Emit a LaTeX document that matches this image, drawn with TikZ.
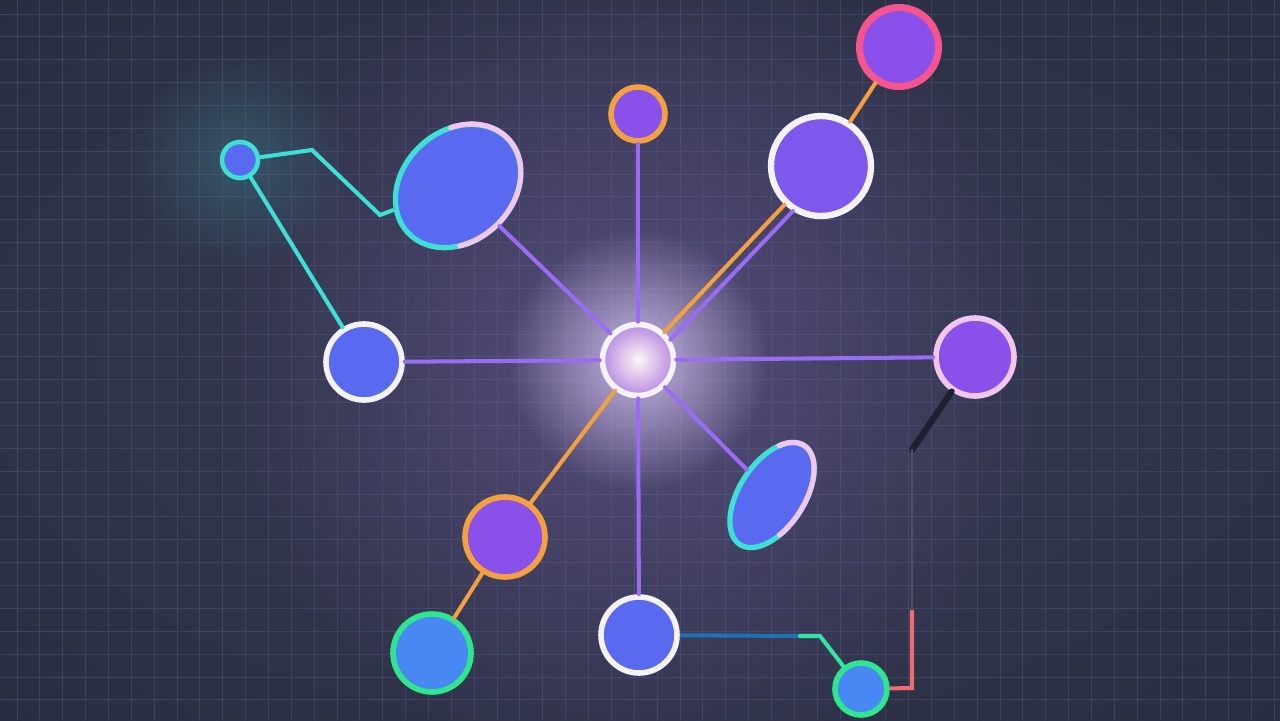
\documentclass[tikz,border=0pt]{standalone}
\usetikzlibrary{shapes.geometric,fadings}
\definecolor{bgin}{HTML}{353950}
\definecolor{bgout}{HTML}{22263A}
\definecolor{gridc}{HTML}{454B69}
\definecolor{spoke}{HTML}{9A6CF4}
\definecolor{amber}{HTML}{F2A040}
\definecolor{aqua}{HTML}{3EE0D6}
\definecolor{rose}{HTML}{F6548E}
\definecolor{mint}{HTML}{2FE68E}
\definecolor{snow}{HTML}{F4F2FF}
\definecolor{lilac}{HTML}{F0C6F2}
\definecolor{violetfill}{HTML}{8A50EA}
\definecolor{bluefill}{HTML}{5A6AF0}
\definecolor{wire}{HTML}{2070B4}
\definecolor{coral}{HTML}{F06A72}
\definecolor{ash}{HTML}{4C5168}
\definecolor{ink}{HTML}{1C2030}
\definecolor{haze}{HTML}{A880E8}
\pgfdeclareradialshading{backdrop}{\pgfpoint{0bp}{0bp}}{color(0bp)=(bgin); color(22bp)=(bgin!70!bgout); color(50bp)=(bgout)}
\tikzfading[name=glowfade, inner color=transparent!0, outer color=transparent!100]
\begin{document}
\begin{tikzpicture}[x=0.02cm, y=-0.02cm,
                    line width=2.3pt,
                    line cap=round,
                    ]
    \tikzstyle{ring}=[circle, inner sep=0pt, line width=3.2pt]
    \tikzstyle{violet}=[ring, fill=violetfill]
    \tikzstyle{blue}=[ring, fill=bluefill]
    \tikzstyle{oval}=[ellipse, inner sep=0pt, fill=bluefill, draw=aqua, line width=3pt]
    \tikzstyle{spokeline}=[spoke, line width=2.3pt]

    \useasboundingbox (0,0) rectangle (1280,720);
    \clip (0,0) rectangle (1280,720);
    \shade[shading=backdrop] (0,0) rectangle (1280,720);
    \foreach \i in {0,...,56}
        \draw[gridc, line width=0.5pt, opacity=0.7] (17+22.86*\i,0) -- (17+22.86*\i,720);
    \foreach \j in {0,...,31}
        \draw[gridc, line width=0.5pt, opacity=0.7] (0,14+22.86*\j) -- (1280,14+22.86*\j);

    \coordinate (hubc) at (638,360);
    \coordinate (dotc) at (240,160);
    \fill[haze, opacity=0.3, path fading=glowfade] (hubc) circle[radius=420];
    \fill[white!55!haze, opacity=0.85, path fading=glowfade] (hubc) circle[radius=130];
    \fill[aqua!50!gridc, opacity=0.35, path fading=glowfade] (dotc) circle[radius=110];

    \node[ring, draw=snow, minimum size=1.42cm, inner color=white!85!pink, outer color=haze!80!pink] (hub) at (hubc) {};
    \node[violet, draw=amber, minimum size=1.08cm] (top) at (638,114) {};
    \node[violet, draw=rose, minimum size=1.58cm, line width=4pt] (pink) at (899,47) {};
    \node[violet, draw=snow, minimum size=2.0cm, fill=violetfill!75!bluefill, line width=3.6pt] (big) at (821,166) {};
    \node[violet, draw=lilac, minimum size=1.56cm] (right) at (975,357) {};
    \node[blue, draw=snow, minimum size=1.52cm] (left) at (364,362) {};
    \node[blue, draw=aqua, minimum size=0.72cm, line width=2.6pt] (dot) at (dotc) {};
    \node[oval, minimum width=2.74cm, minimum height=2.2cm, rotate=43] (el1) at (458,186) {};
    \node[oval, minimum width=2.36cm, minimum height=1.3cm, rotate=57] (el2) at (772,495) {};
    \node[violet, draw=amber, minimum size=1.6cm] (oring) at (505,537) {};
    \node[blue, draw=mint, minimum size=1.56cm, fill=bluefill!80!cyan] (gring) at (432,653) {};
    \node[blue, draw=snow, minimum size=1.52cm] (bot) at (639,635) {};
    \node[blue, draw=mint, minimum size=1.04cm, fill=bluefill!80!cyan] (gdot) at (861,689) {};

    \begin{scope}[shift={(el1.center)}, rotate=43, x=0.02cm, y=0.02cm]
        \draw[lilac, line width=3pt] (60:69 and 55) arc[start angle=60, end angle=-125, x radius=69, y radius=55];
    \end{scope}
    \begin{scope}[shift={(el2.center)}, rotate=57, x=0.02cm, y=0.02cm]
        \draw[lilac, line width=3pt] (40:59 and 32.5) arc[start angle=40, end angle=-120, x radius=59, y radius=32.5];
    \end{scope}

    \coordinate (c1) at (312,150);
    \coordinate (c2) at (380,215);
    \coordinate (k1) at (912,450);
    \coordinate (k2) at (912,610);
    \coordinate (k3) at (912,688);
    \coordinate (b1) at (800,636);
    \coordinate (b2) at (820,636);

    \draw[spokeline] (hub) -- (top);
    \draw[spokeline] (hub) -- (left);
    \draw[spokeline] (hub) -- (right);
    \draw[spokeline] (hub) -- (bot);
    \draw[spokeline] (hub) -- (el1);
    \draw[spokeline] (hub) -- (el2);
    \draw[spokeline] (hub.32) -- (big.238);
    \draw[amber] (gring) -- (oring);
    \draw[amber] (oring) -- (hub);
    \draw[amber] (hub) -- (big);
    \draw[amber] (big) -- (pink);
    \draw[aqua, line cap=butt] (dot) -- (c1) -- (c2) -- (el1);
    \draw[aqua] (dot) -- (left);
    \draw[ink, line width=3.6pt] (right) -- (k1);
    \draw[ash, line width=1.4pt] (k1) -- (k2);
    \draw[coral, line cap=butt] (k2) -- (k3) -- (gdot);
    \draw[wire, line cap=butt] (bot) -- (b1);
    \draw[mint!70!aqua] (b1) -- (b2) -- (gdot);
\end{tikzpicture}
\end{document}
